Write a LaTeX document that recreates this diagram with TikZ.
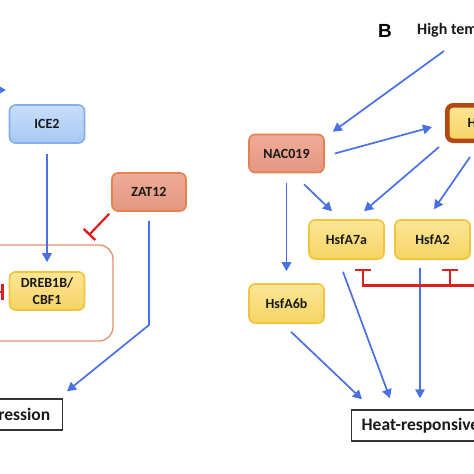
\documentclass[tikz,border=0pt]{standalone}
\usepackage{fontspec}
\setmainfont{Carlito}
\newfontfamily\labfont{Liberation Sans}
\usetikzlibrary{arrows.meta,calc}
\definecolor{arrowblue}{RGB}{74,112,230}
\definecolor{inhred}{RGB}{222,30,30}
\definecolor{ytop}{RGB}{252,230,150}
\definecolor{ybot}{RGB}{246,212,100}
\definecolor{ybord}{RGB}{240,196,60}
\definecolor{stop}{RGB}{238,172,152}
\definecolor{sbot}{RGB}{228,150,128}
\definecolor{sbord}{RGB}{230,128,80}
\definecolor{btop}{RGB}{200,222,250}
\definecolor{bbot}{RGB}{168,200,242}
\definecolor{bbord}{RGB}{130,175,232}
\definecolor{hbord}{RGB}{180,70,16}
\definecolor{bigbord}{RGB}{226,146,110}
\definecolor{txt}{RGB}{25,25,25}
\tikzset{
  gbox/.style={rounded corners=6pt, line width=1.6pt, minimum width=75pt, minimum height=38pt,
    inner sep=0pt, align=center, text=txt, font=\bfseries\fontsize{14}{16.5}\selectfont},
  yel/.style={gbox, draw=ybord, top color=ytop, bottom color=ybot},
  sal/.style={gbox, draw=sbord, top color=stop, bottom color=sbot},
  blu/.style={gbox, draw=bbord, top color=btop, bottom color=bbot},
  outbox/.style={draw=black!80, line width=1.4pt, fill=white, minimum height=31pt, inner ysep=0pt,
    text=txt, font=\bfseries\fontsize{17.5}{20}\selectfont},
  act/.style={draw=arrowblue, line width=1.7pt, -{Triangle[length=9pt,width=9.5pt]}},
  inh/.style={draw=inhred, line width=2.2pt, -{Bar[width=16pt,line width=2.4pt]}},
  inhplain/.style={draw=inhred, line width=2.2pt}
}
\begin{document}
\begin{tikzpicture}[x=1pt,y=-1pt]
\useasboundingbox (0,0) rectangle (474,474);
\clip (0,0) rectangle (474,474);
\fill[white] (0,0) rectangle (474,474);

% ---------- left panel ----------
\node[draw=bigbord, line width=1.3pt, rounded corners=14pt, minimum width=138pt, minimum height=96pt] (bigbox) at (44,293) {};
\node[blu] (ice2) at (47,124) {ICE2};
\node[sal, minimum width=74pt] (zat) at (149,192) {ZAT12};
\node[yel] (dreb) at (47,291) {DREB1B/\\CBF1};
\node[outbox, anchor=east, text width=100pt, align=right, inner xsep=12pt] (cold) at (63,414.5) {ression};

\coordinate (leftsrc) at (-20,90);
\coordinate (lefttip) at (6,90);
\coordinate (leftinh) at (-30,292);
\coordinate (bend) at (149,325);

\draw[act] (leftsrc) -- (lefttip);
\draw[inh] (leftinh) -- ($(dreb.west)+(-5,1)$);
\draw[act] ($(ice2.south)+(0,10)$) -- ($(dreb.north)+(0,-9)$);
\draw[inh] ($(zat.south west)+(-2,2)$) -- ($(bigbox.north east)+(-25,-9)$);
\draw[act] ($(zat.south)+(0,9)$) -- (bend) -- ($(cold.north east)+(4,-7)$);

% ---------- right panel ----------
\node[anchor=center, font=\labfont\bfseries\fontsize{19}{19}\selectfont] (blab) at (385,31) {B};
\node[anchor=west, inner sep=0pt, text=txt, font=\bfseries\fontsize{16}{18}\selectfont] (ht) at (417,30) {High tem};
\coordinate (htsrc) at (444,51);

\node[sal] (nac) at (286.5,153.5) {NAC019};
\node[yel, draw=hbord, line width=4.5pt, minimum height=35.5pt] (hsfa1) at (484.75,123) {HsfA1};
\node[yel, minimum height=39pt] (a7a) at (346.5,239.5) {HsfA7a};
\node[yel, minimum height=39pt] (a2) at (432.5,239.5) {HsfA2};
\node[yel, minimum height=39pt] (a6b) at (286.5,303.5) {HsfA6b};
\node[outbox, anchor=west, inner xsep=10pt] (heat) at (351,425.5) {Heat-responsive};

\draw[act] (htsrc) -- ($(nac.north east)+(8,-2)$);
\draw[act] ($(nac.east)+(10,0)$) -- ($(hsfa1.west)+(-13,4)$);
\draw[act] ($(nac.south)+(17.5,11)$) -- ($(a7a.north)+(-14.5,-8)$);
\draw[act] ($(hsfa1.south west)+(-6,4)$) -- ($(a7a.north)+(17.5,-8)$);
\draw[act] ($(hsfa1.south west)+(25,14)$) -- ($(a2.north)+(1.5,-10)$);
\draw[act] ($(nac.south)+(0,10)$) -- ($(a6b.north)+(0,-12)$);
\draw[act] ($(a7a.south)+(-3.5,12)$) -- ($(heat.north west)+(39,-11)$);
\draw[act] ($(a2.south)+(-12.5,8)$) -- ($(heat.north west)+(69,-11)$);
\draw[act] ($(a6b.south)+(4.5,8)$) -- ($(heat.north west)+(11,-10)$);

\coordinate (redsrc) at (500,285.5);
\coordinate (redjn) at (450,285.5);
\draw[inhplain] (redsrc) -- (redjn);
\draw[inh] (redjn) -| ($(a7a.south)+(16.5,9)$);
\draw[inh] (redjn) -- ($(a2.south)+(17.5,9)$);
\end{tikzpicture}
\end{document}
